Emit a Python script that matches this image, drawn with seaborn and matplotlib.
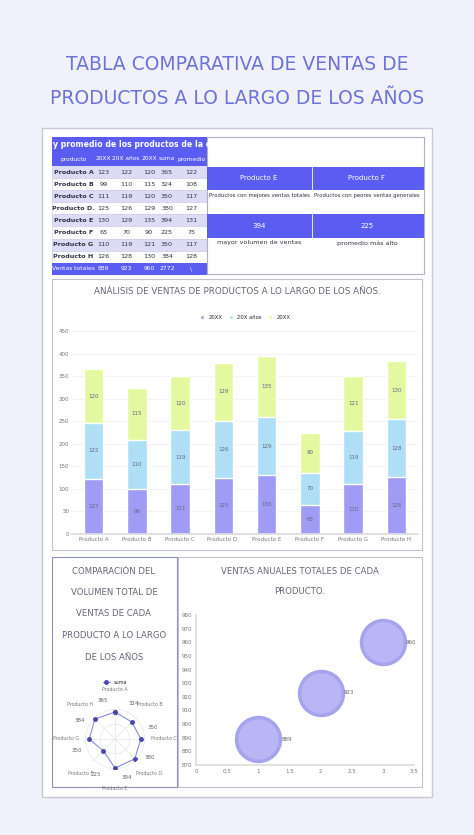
import matplotlib
matplotlib.use("Agg")
import matplotlib.pyplot as plt
import seaborn as sns
import numpy as np
import pandas as pd
from matplotlib.patches import Rectangle

sns.set_theme(style="white")
plt.rcParams['font.family'] = ['DejaVu Sans']

products = ["Producto A", "Producto B", "Producto C", "Producto D.", "Producto E", "Producto F", "Producto G", "Producto H"]
bar_labels = ["Producto A", "Producto B", "Producto C", "Producto D.", "Producto E", "Producto F", "Producto G", "Producto H"]
series_names = ["20XX", "20X años", "20XX"]
year1 = [123, 99, 111, 125, 130, 65, 110, 126]
year2 = [122, 110, 119, 126, 129, 70, 119, 128]
year3 = [120, 115, 120, 129, 135, 90, 121, 130]
suma = [365, 324, 350, 380, 394, 225, 350, 384]
promedio = [122, 108, 117, 127, 131, 75, 117, 128]
totals = [889, 923, 960, 2772, "\\"]
bubble_x = [1, 2, 3]
bubble_y = [889, 923, 960]

W, H = 474, 835
fig = plt.figure(figsize=(W/100, H/100), dpi=100)
fig.patch.set_facecolor("#f1f1fb")

def fx(x): return x / W
def fy(y): return 1 - y / H
def rect(x0, y0, x1, y1, fc, ec="none", lw=0.8, z=-1):
    fig.patches.append(Rectangle((fx(x0), fy(y1)), fx(x1) - fx(x0), fy(y0) - fy(y1),
                                 transform=fig.transFigure, facecolor=fc, edgecolor=ec, lw=lw, zorder=z))
def txt(x, y, s, **kw):
    kw.setdefault("ha", "center"); kw.setdefault("va", "center")
    return fig.text(fx(x), fy(y), s, **kw)

BLUE = "#5b5df2"
TITLE = "#6d74d6"
txt(237, 64, "TABLA COMPARATIVA DE VENTAS DE", fontsize=13.5, color=TITLE)
txt(237, 99, "PRODUCTOS A LO LARGO DE LOS AÑOS", fontsize=13.5, color=TITLE)

rect(42, 128, 432, 797, "white", ec="#c8c8d8", lw=1)

# table
rect(52, 137, 207, 152, BLUE)
t = txt(53, 144.5, "y promedio de los productos de la em", ha="left", fontsize=5.6, color="white", fontweight="bold")
rect(52, 152, 207, 166, BLUE)
colx = [52, 95, 112, 140, 158, 176, 207]
heads = ["producto", "20XX", "20X años", "20XX", "suma", "promedio"]
for i, h in enumerate(heads):
    txt((colx[i] + colx[i+1]) / 2, 159, h, fontsize=4.2, color="white")
rowh = 12.1
for r, p in enumerate(products):
    y0 = 166 + r * rowh
    rect(52, y0, 207, y0 + rowh, "#dcdcf7" if r % 2 == 0 else "white", ec="#c8c8e0", lw=0.4)
    vals = [p, year1[r], year2[r], year3[r], suma[r], promedio[r]]
    for i, v in enumerate(vals):
        txt((colx[i] + colx[i+1]) / 2, y0 + rowh / 2, str(v), fontsize=4.6, color="#333344",
            fontweight="bold" if i == 0 else "normal")
y0 = 166 + 8 * rowh
rect(52, y0, 207, y0 + 12, BLUE)
for i, v in enumerate(["Ventas totales"] + [str(t) for t in totals]):
    txt((colx[i] + colx[i+1]) / 2, y0 + 6, v, fontsize=4.3, color="white")

# right summary panel
rect(207, 137, 424, 274, "white", ec="#b0b0c0", lw=0.8)
rect(207, 167, 424, 190, BLUE)
rect(207, 214, 424, 238, BLUE)
fig.lines.append(plt.Line2D([fx(312), fx(312)], [fy(167), fy(190)], transform=fig.transFigure, color="white", lw=0.6))
fig.lines.append(plt.Line2D([fx(312), fx(312)], [fy(214), fy(238)], transform=fig.transFigure, color="white", lw=0.6))
txt(259, 178.5, "Producto E", fontsize=5, color="white")
txt(367, 178.5, "Producto F", fontsize=5, color="white")
txt(259, 196, "Productos con mejores ventas totales", fontsize=3.9, color="#333344")
txt(367, 196, "Productos con peores ventas generales", fontsize=3.9, color="#333344")
txt(259, 226, str(max(suma)), fontsize=5, color="white")
txt(367, 226, str(min(suma)), fontsize=5, color="white")
txt(259, 243, "mayor volumen de ventas", fontsize=4.6, color="#333344")
txt(367, 243, "promedio más alto", fontsize=4.6, color="#333344")

# bar chart panel
rect(52, 279, 422, 550, "white", ec="#c0c0d0", lw=0.8)
txt(237, 292, "ANÁLISIS DE VENTAS DE PRODUCTOS A LO LARGO DE LOS AÑOS.", fontsize=6.3, color="#666677")
ax = fig.add_axes([fx(72), fy(534), fx(418) - fx(72), fy(331) - fy(534)])
ax.patch.set_alpha(0)
c1, c2, c3 = "#a09cf5", "#aedff7", "#e4f99f"
cum1 = np.array(year1); cum2 = cum1 + np.array(year2); cum3 = cum2 + np.array(year3)
df = pd.DataFrame({"p": bar_labels, "c1": cum1, "c2": cum2, "c3": cum3})
for col, c, lab in [("c3", c3, series_names[2]), ("c2", c2, series_names[1]), ("c1", c1, series_names[0])]:
    sns.barplot(data=df, x="p", y=col, color=c, ax=ax, width=0.45, label=lab, saturation=1)
for i in range(len(bar_labels)):
    for lo, hi, v in [(0, cum1[i], year1[i]), (cum1[i], cum2[i], year2[i]), (cum2[i], cum3[i], year3[i])]:
        ax.text(i, (lo + hi) / 2, str(v), ha="center", va="center", fontsize=4, color="#666688")
ax.set_ylim(0, 450)
ax.set_yticks(range(0, 451, 50))
ax.tick_params(labelsize=4, colors="#777777", length=0, pad=2)
ax.set_xlabel(""); ax.set_ylabel("")
ax.grid(axis="y", color="#eeeeee", lw=0.5)
ax.set_axisbelow(True)
for s in ["top", "right", "left"]:
    ax.spines[s].set_visible(False)
ax.spines["bottom"].set_color("#dddddd")
h, l = ax.get_legend_handles_labels()
ax.legend(h[::-1], l[::-1], loc="lower center", bbox_to_anchor=(0.5, 1.03), ncol=3, fontsize=3.8,
          frameon=False, handlelength=0.8, handleheight=0.8, columnspacing=1.2)

# radar panel
rect(52, 557, 177, 787, "white", ec="#9090b0", lw=0.8)
for i, line in enumerate(["COMPARACIÓN DEL", "VOLUMEN TOTAL DE", "VENTAS DE CADA", "PRODUCTO A LO LARGO", "DE LOS AÑOS"]):
    txt(114, 571 + i * 21.5, line, fontsize=6.1, color="#666677")
rax = fig.add_axes([fx(84), fy(770), fx(146) - fx(84), fy(708) - fy(770)], projection="polar")
rax.patch.set_alpha(0)
ang = np.linspace(0, 2 * np.pi, len(suma), endpoint=False)
rax.set_theta_zero_location("N"); rax.set_theta_direction(-1)
rax.plot(np.append(ang, ang[0]), suma + [suma[0]], color="#8a88e0", lw=0.8, marker="o", ms=2.5,
         mfc="#4a46b0", mec="#4a46b0", label="suma")
rax.set_ylim(0, 420)
rax.set_yticks([200, 400]); rax.set_yticklabels([])
rax.set_xticks(ang); rax.set_xticklabels(products, fontsize=3.4, color="#777777")
rax.tick_params(pad=0)
rax.grid(color="#e6e6e6", lw=0.5)
rax.spines["polar"].set_visible(False)
for a, v in zip(ang, suma):
    rax.text(a - 0.3, 540, str(v), fontsize=4, color="#666666", ha="center", va="center")
rax.legend(loc="lower center", bbox_to_anchor=(0.5, 1.3), fontsize=3.6, frameon=False, handlelength=1.5)

# bubble panel
rect(178, 557, 422, 787, "white", ec="#c0c0d0", lw=0.8)
txt(300, 571, "VENTAS ANUALES TOTALES DE CADA", fontsize=6.1, color="#666677")
txt(300, 592, "PRODUCTO.", fontsize=6.1, color="#666677")
bax = fig.add_axes([fx(196), fy(765), fx(414) - fx(196), fy(615) - fy(765)])
bax.patch.set_alpha(0)
sns.scatterplot(x=bubble_x, y=bubble_y, s=1000, color="#b8b6f4", edgecolor="#a6a4ee", ax=bax, legend=False)
for x, y in zip(bubble_x, bubble_y):
    bax.text(x + 0.37, y, str(y), fontsize=4, color="#666666", va="center")
bax.set_xlim(0, 3.5); bax.set_ylim(870, 980)
bax.set_xticks([0, 0.5, 1, 1.5, 2, 2.5, 3, 3.5])
bax.set_xticklabels(["0", "0.5", "1", "1.5", "2", "2.5", "3", "3.5"])
bax.set_yticks(range(870, 981, 10))
bax.tick_params(labelsize=4, colors="#777777", length=0, pad=3)
for s in ["top", "right"]:
    bax.spines[s].set_visible(False)
bax.spines["left"].set_color("#dddddd"); bax.spines["bottom"].set_color("#dddddd")

fig.savefig("out.png", dpi=100)
